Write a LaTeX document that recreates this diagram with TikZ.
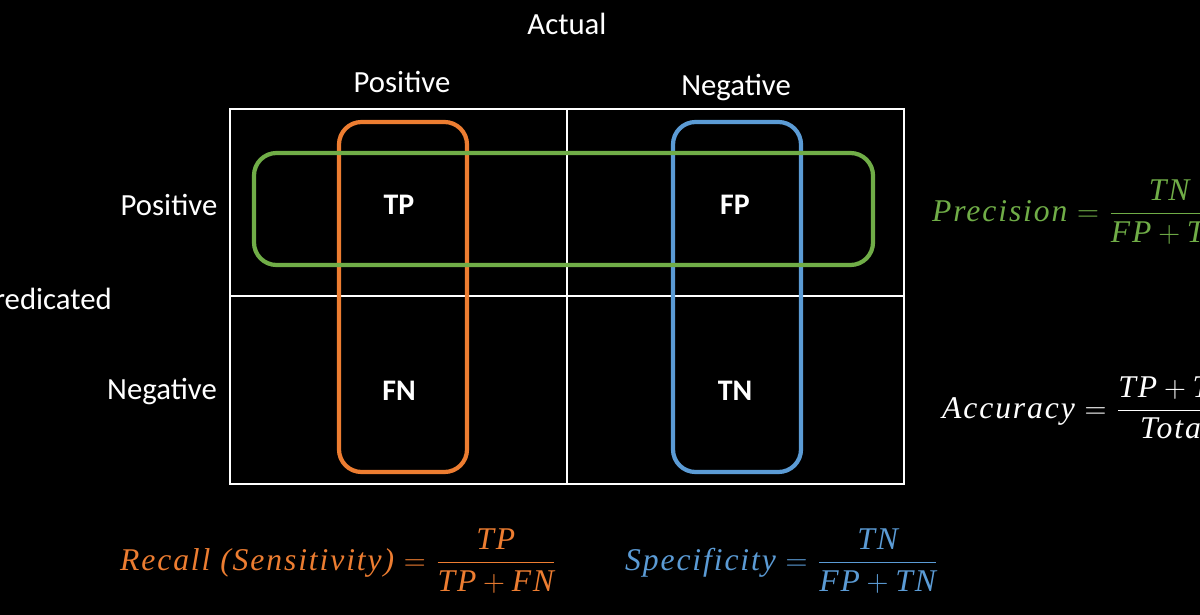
\documentclass[tikz,border=0pt]{standalone}
\usepackage{amsmath}
\usepackage{fontspec}
\setmainfont{Carlito}
\newfontfamily\fmlfont[LetterSpace=6]{Liberation Serif}
\definecolor{ora}{HTML}{ED7D31}
\definecolor{blu}{HTML}{5B9BD5}
\definecolor{gre}{HTML}{70AD47}
\newcommand{\fv}[1]{\text{\fmlfont\itshape #1}}
\begin{document}
\begin{tikzpicture}[x=0.02cm,y=-0.02cm,
  lab/.style={text=white,font=\fontsize{17.5}{20}\selectfont},
  cell/.style={text=white,font=\fontsize{17}{20}\selectfont\bfseries},
  frm/.style={line width=2.4pt,rounded corners=0.45cm},
  fml/.style={font=\fontsize{18}{21}\selectfont\fmlfont\itshape,anchor=west}]
\fill[black] (0,0) rectangle (1200,615);
\useasboundingbox (0,0) rectangle (1200,615);
\clip (0,0) rectangle (1200,615);
\draw[white,line width=0.6pt] (230,109) rectangle (904,484);
\draw[white,line width=0.6pt] (567,109) -- (567,484);
\draw[white,line width=0.6pt] (230,296) -- (904,296);
\draw[frm,ora] (339,122) rectangle (467,472);
\draw[frm,blu] (673,122) rectangle (801,472);
\draw[frm,gre] (254,153) rectangle (873,265);
\node[lab] (act) at (567,24) {Actual};
\node[lab] (cp) at (402,82) {Positive};
\node[lab] (cn) at (736,88) {Negative};
\node[lab] (rp) at (169,205) {Positive};
\node[lab] (rn) at (162,392) {Negative};
\node[lab,anchor=east] (pr) at (118,299) {Predicated};
\node[cell] (tp) at (399,205) {TP};
\node[cell] (fp) at (735,205) {FP};
\node[cell] (fn) at (399,391) {FN};
\node[cell] (tn) at (735,391) {TN};
\node[fml,text=gre] (prec) at (926,212) {Precision $=$ $\dfrac{\fv{TN}}{\fv{FP}+\fv{TN}}$};
\node[fml,text=white] (acc) at (936,408) {Accuracy $=$ $\dfrac{\fv{TP}+\fv{TN}}{\fv{Total}}$};
\node[fml,text=ora] (rec) at (114,561) {Recall (Sensitivity) $=$ $\dfrac{\fv{TP}}{\fv{TP}+\fv{FN}}$};
\node[fml,text=blu] (spec) at (619,561) {Specificity $=$ $\dfrac{\fv{TN}}{\fv{FP}+\fv{TN}}$};
\end{tikzpicture}
\end{document}
